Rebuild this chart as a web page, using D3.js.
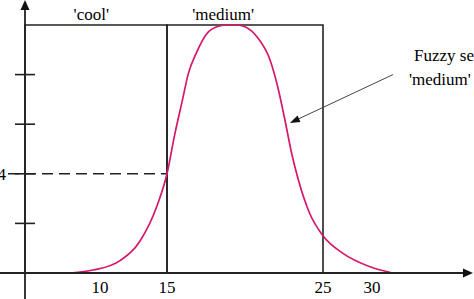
<!DOCTYPE html>
<html>
<head>
<meta charset="utf-8">
<script src="https://cdn.jsdelivr.net/npm/d3@7"></script>
<style>
  body { margin: 0; background: #fff; }
  svg { display: block; }
  text { font-family: "Times New Roman", Times, "Liberation Serif", "DejaVu Serif", "Noto Serif", serif; font-size: 17px; }
</style>
</head>
<body>
<svg id="chart" width="474" height="299"></svg>
<script>
// temperature values along the curve and their membership in 'medium'
var curveX = [7.8, 9.5, 11.5, 13, 14.25, 15, 15.5, 16, 16.35, 16.9, 17.55, 18.3, 18.9,
              19.4, 19.9, 20.8, 21.6, 22.1, 22.55, 23, 23.4, 24.15, 25, 27, 29.8, 32.1];
var curveY = [0, 0.012, 0.05, 0.13, 0.27, 0.4, 0.56, 0.7, 0.8, 0.89, 0.965, 0.995, 1,
              1, 0.995, 0.95, 0.86, 0.75, 0.62, 0.48, 0.38, 0.24, 0.15, 0.08, 0.025, 0];
// crisp sets
var setNames = ["'cool'", "'medium'"];
var setStart = [null, 15];
var setEnd = [15, 25];
var setLabelX = [9.35, 18.6];
// ticks
var xTicks = [10, 15, 25, 30];
var yTicks = [0.2, 0.4, 0.6, 0.8];
var markedY = 0.4;

var svg = d3.select("#chart"),
    width = 474,
    height = 299,
    axisX = 25;

// schematic axis: tick labels are not evenly spaced in the original
var x = d3.scaleLinear()
          .domain(xTicks)
          .range([100, 167, 323, 372]);
var y = d3.scaleLinear()
          .domain([0, 1])
          .range([273, 25]);

//Crisp set boxes
setNames.forEach(function(name, i) {
  var x0 = setStart[i] === null ? axisX : x(setStart[i]),
      x1 = x(setEnd[i]);
  svg.append("path")
    .attr("d", "M" + x0 + "," + y(0) + "V" + y(1) + "H" + x1 + "V" + y(0))
    .attr("fill", "none")
    .attr("stroke", "#222")
    .attr("stroke-width", 1.6);
  svg.append("text")
    .attr("x", x(setLabelX[i]))
    .attr("y", 20)
    .attr("text-anchor", "middle")
    .text(name);
});

//Dashed guide at membership 0.4
svg.append("line")
  .attr("x1", 8)
  .attr("x2", x(15))
  .attr("y1", y(markedY))
  .attr("y2", y(markedY))
  .attr("stroke", "#222")
  .attr("stroke-width", 1.6)
  .attr("stroke-dasharray", "11,6");

//Fuzzy membership curve
var pts = curveX.map(function(d, i) { return [d, curveY[i]]; });
svg.append("path")
  .datum(pts)
  .attr("fill", "none")
  .attr("stroke", "#d6176c")
  .attr("stroke-width", 1.7)
  .attr("d", d3.line()
    .x(function(d) { return x(d[0]); })
    .y(function(d) { return y(d[1]); })
    .curve(d3.curveMonotoneX));

//Axes with arrow heads
svg.append("line")
  .attr("x1", 0).attr("x2", width - 8)
  .attr("y1", y(0)).attr("y2", y(0))
  .attr("stroke", "#222").attr("stroke-width", 1.8);
svg.append("path")
  .attr("d", "M" + (width - 1) + "," + y(0) + "l-10,-4.5v9z")
  .attr("fill", "#111");
svg.append("line")
  .attr("x1", axisX).attr("x2", axisX)
  .attr("y1", height).attr("y2", 8)
  .attr("stroke", "#222").attr("stroke-width", 1.8);
svg.append("path")
  .attr("d", "M" + axisX + ",0l-4.5,10h9z")
  .attr("fill", "#111");

//Y ticks cross the axis
svg.selectAll(".ytick")
  .data(yTicks)
  .enter()
  .append("line")
  .attr("class", "ytick")
  .attr("x1", axisX - 10)
  .attr("x2", axisX + 10)
  .attr("y1", function(d) { return y(d); })
  .attr("y2", function(d) { return y(d); })
  .attr("stroke", "#222")
  .attr("stroke-width", 1.6);
svg.append("text")
  .attr("x", 6)
  .attr("y", y(markedY))
  .attr("dy", "0.35em")
  .attr("text-anchor", "end")
  .text(d3.format(".1f")(markedY));

//X tick labels
svg.selectAll(".xlab")
  .data(xTicks)
  .enter()
  .append("text")
  .attr("class", "xlab")
  .attr("x", function(d) { return x(d); })
  .attr("y", 293)
  .attr("text-anchor", "middle")
  .text(function(d) { return d; });

//Annotation arrow
var tail = [32.14, 0.8], tip = [22.88, 0.605];
var tx = x(tip[0]), ty = y(tip[1]), sx = x(tail[0]), sy = y(tail[1]);
var ang = Math.atan2(ty - sy, tx - sx);
svg.append("line")
  .attr("x1", sx).attr("y1", sy)
  .attr("x2", tx - 8 * Math.cos(ang)).attr("y2", ty - 8 * Math.sin(ang))
  .attr("stroke", "#444").attr("stroke-width", 1);
svg.append("path")
  .attr("transform", "translate(" + tx + "," + ty + ") rotate(" + (ang * 180 / Math.PI) + ")")
  .attr("d", "M0,0L-10,-3.5L-10,3.5Z")
  .attr("fill", "#111");
var note = svg.append("text");
note.append("tspan").attr("x", 414).attr("y", 61).text("Fuzzy set");
note.append("tspan").attr("x", 409).attr("y", 85).text("'medium'");
</script>
</body>
</html>
